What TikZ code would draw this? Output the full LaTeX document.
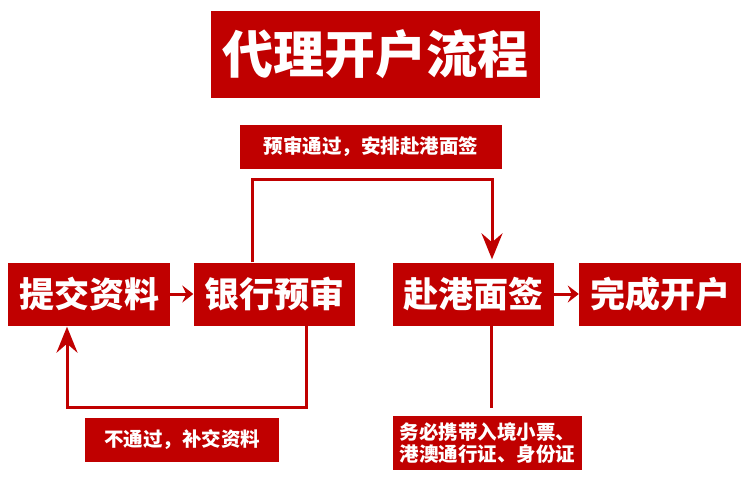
\documentclass[tikz,border=0pt]{standalone}
\usepackage{fontspec}
\setmainfont{Noto Sans CJK SC}
\newfontfamily\heavy{Noto Sans CJK SC Black}
\usetikzlibrary{arrows.meta}
\definecolor{rd}{HTML}{C00000}
\begin{document}
\begin{tikzpicture}[x=1pt,y=-1pt,
  box/.style={fill=rd, inner sep=0pt, text=white, font=\heavy\fontsize{35}{40}\selectfont, minimum height=63pt},
  lbl/.style={fill=rd, inner sep=0pt, text=white, font=\bfseries\fontsize{19.5}{22}\selectfont, align=center},
  line/.style={draw=rd, line width=3pt},
  conn/.style={line, -{Stealth[length=26pt,width=21pt,inset=9pt]}},
  sconn/.style={line, -{Stealth[length=11pt,width=17pt,inset=4pt]}}]
\useasboundingbox (0,0) rectangle (749,485);
\node[fill=rd, inner sep=0pt, text=white, font=\heavy\fontsize{51}{56}\selectfont, minimum width=329pt, minimum height=87pt] (title) at (375.5,54.5) {代理开户流程};
\node[lbl, minimum width=262pt, minimum height=44pt] (pass) at (371,147) {预审通过，安排赴港面签};
\node[box, minimum width=162pt] (n1) at (89,294) {提交资料};
\node[box, minimum width=161pt] (n2) at (274,294) {银行预审};
\node[box, minimum width=161pt] (n3) at (473.5,294) {赴港面签};
\node[box, minimum width=162pt] (n4) at (660,294) {完成开户};
\node[lbl, minimum width=194pt, minimum height=44pt] (fail) at (182,440) {不通过，补交资料};
\node[lbl, minimum width=189pt, minimum height=54pt] (note) at (487.5,443) {务必携带入境小票、\\港澳通行证、身份证};
\draw[sconn] (n1) -- (n2);
\draw[sconn] (n3) -- (n4);
\draw[conn] ([xshift=-22pt]n2.north) -- ++(0,-83) -| ([xshift=18.5pt,yshift=3pt]n3.north);
\draw[conn] ([xshift=32pt]n2.south) -- ++(0,82) -| ([xshift=-22pt,yshift=-1pt]n1.south);
\draw[line] ([xshift=17.5pt]n3.south) -- ++(0,82);
\end{tikzpicture}
\end{document}
